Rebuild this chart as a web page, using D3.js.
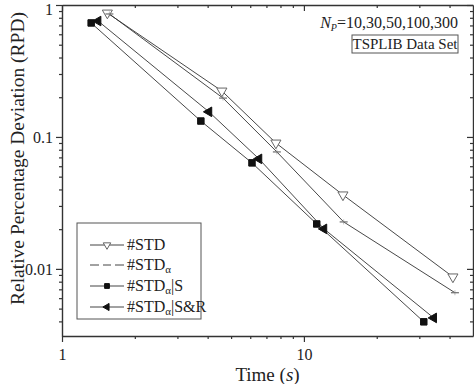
<!DOCTYPE html>
<html>
  <head>
    <style>
     body{ margin:0; background:#fff; }
     svg text{ font-family:"Liberation Serif","Times New Roman",serif; fill:#222; }
     .domain{ stroke:#333; stroke-width:1.4; }
     .tick line{ stroke:#333; stroke-width:1.2; }
    </style>
    <script src="https://d3js.org/d3.v7.min.js"></script>
    <title>RPD vs Time</title>
  </head>
  <body>
    <script>
    // values
    const seriesNames = ["#STD", "#STDα", "#STDα|S", "#STDα|S&R"];
    const timeSTD   = [1.54, 4.58, 7.66, 14.5, 41.3];
    const rpdSTD    = [0.87, 0.223, 0.090, 0.0364, 0.0087];
    const timeSTDa  = [1.57, 4.63, 7.73, 14.6, 42.1];
    const rpdSTDa   = [0.855, 0.197, 0.077, 0.0227, 0.0066];
    const timeS     = [1.32, 3.75, 6.10, 11.3, 31.3];
    const rpdS      = [0.731, 0.132, 0.0636, 0.0219, 0.00397];
    const timeSR    = [1.41, 4.05, 6.52, 12.1, 34.4];
    const rpdSR     = [0.756, 0.155, 0.0682, 0.0201, 0.00425];
    const xMajor = [1, 10];
    const yMajor = [1, 0.1, 0.01];

    const w = 474, h = 384;
    const pL = 62, pR = 473, pT = 5, pB = 336;

    const xScale = d3.scaleLog().domain([1, 50]).range([pL, pR]);
    const yScale = d3.scaleLog().domain([0.0031, 1]).range([pB, pT]);

    function minors(lo, hi) {
      const out = [];
      for (let e = Math.floor(Math.log10(lo)); e <= Math.ceil(Math.log10(hi)); e++) {
        for (let k = 2; k <= 9; k++) {
          const v = k * Math.pow(10, e);
          if (v > lo && v < hi) out.push(v);
        }
      }
      return out;
    }
    const xMinor = minors(1, 50);
    const yMinor = minors(0.0031, 1);

    const svg = d3.select("body").append("svg")
      .attr("width", w).attr("height", h);

    // bottom axis (outward ticks)
    svg.append("g").attr("transform", "translate(0," + pB + ")")
      .call(d3.axisBottom(xScale).tickValues(xMajor).tickFormat(d3.format("d")).tickSize(6).tickSizeOuter(0))
      .call(g => g.selectAll("text").attr("font-size", 16).attr("dy", "0.95em"));
    svg.append("g").attr("transform", "translate(0," + pB + ")")
      .call(d3.axisBottom(xScale).tickValues(xMinor).tickFormat("").tickSize(3).tickSizeOuter(0))
      .call(g => g.select(".domain").remove());
    // top axis (inward ticks)
    svg.append("g").attr("transform", "translate(0," + pT + ")")
      .call(d3.axisBottom(xScale).tickValues(xMajor).tickFormat("").tickSize(6).tickSizeOuter(0));
    svg.append("g").attr("transform", "translate(0," + pT + ")")
      .call(d3.axisBottom(xScale).tickValues(xMinor).tickFormat("").tickSize(3).tickSizeOuter(0))
      .call(g => g.select(".domain").remove());
    // left axis (outward ticks)
    svg.append("g").attr("transform", "translate(" + pL + ",0)")
      .call(d3.axisLeft(yScale).tickValues(yMajor).tickFormat(d => String(d)).tickSize(6).tickSizeOuter(0))
      .call(g => g.selectAll("text").attr("font-size", 16)
        .attr("dy", d => d === 1 ? "0.6em" : "0.32em"));
    svg.append("g").attr("transform", "translate(" + pL + ",0)")
      .call(d3.axisLeft(yScale).tickValues(yMinor).tickFormat("").tickSize(3).tickSizeOuter(0))
      .call(g => g.select(".domain").remove());
    // right axis (inward ticks)
    svg.append("g").attr("transform", "translate(" + pR + ",0)")
      .call(d3.axisLeft(yScale).tickValues(yMajor).tickFormat("").tickSize(6).tickSizeOuter(0));
    svg.append("g").attr("transform", "translate(" + pR + ",0)")
      .call(d3.axisLeft(yScale).tickValues(yMinor).tickFormat("").tickSize(3).tickSizeOuter(0))
      .call(g => g.select(".domain").remove());

    // axis titles
    const xt = svg.append("text").attr("x", (pL + pR) / 2).attr("y", 381)
      .attr("text-anchor", "middle").attr("font-size", 19);
    xt.append("tspan").text("Time (");
    xt.append("tspan").attr("font-style", "italic").text("s");
    xt.append("tspan").text(")");
    svg.append("text").attr("transform", "translate(24," + ((pT + pB) / 2 - 12) + ") rotate(-90)")
      .attr("text-anchor", "middle").attr("font-size", 19.5)
      .text("Relative Percentage Deviation (RPD)");

    const line = d3.line().x(d => xScale(d[0])).y(d => yScale(d[1]));
    const series = [
      { t: timeSTD, r: rpdSTD, sym: d3.symbolTriangle, rot: 180, fill: "#fff", stroke: "#666", size: 44 },
      { t: timeSTDa, r: rpdSTDa, sym: "dash", fill: "none", stroke: "#777" },
      { t: timeS, r: rpdS, sym: d3.symbolSquare, rot: 0, fill: "#111", stroke: "#111", size: 42 },
      { t: timeSR, r: rpdSR, sym: d3.symbolTriangle, rot: -90, fill: "#111", stroke: "#111", size: 40 }
    ];

    function drawMarker(g, s, x, y) {
      if (s.sym === "dash") {
        g.append("line").attr("x1", x - 4).attr("x2", x + 4).attr("y1", y).attr("y2", y)
          .attr("stroke", s.stroke).attr("stroke-width", 1.3);
        g.append("line").attr("x1", x).attr("x2", x).attr("y1", y - 2.5).attr("y2", y + 2.5)
          .attr("stroke", s.stroke).attr("stroke-width", 0.8).attr("opacity", 0.6);
      } else {
        g.append("path").attr("d", d3.symbol().type(s.sym).size(s.size)())
          .attr("transform", "translate(" + x + "," + y + ") rotate(" + s.rot + ")")
          .attr("fill", s.fill).attr("stroke", s.stroke).attr("stroke-width", 1);
      }
    }

    series.forEach(s => {
      const pts = s.t.map((t, i) => [t, s.r[i]]);
      svg.append("path").attr("d", line(pts)).attr("fill", "none")
        .attr("stroke", "#333").attr("stroke-width", 0.9);
    });
    series.forEach(s => {
      const g = svg.append("g");
      s.t.forEach((t, i) => drawMarker(g, s, xScale(t), yScale(s.r[i])));
    });

    // legend
    svg.append("rect").attr("x", 77).attr("y", 223).attr("width", 124).attr("height", 96)
      .attr("fill", "#fff").attr("stroke", "#555").attr("stroke-width", 1);
    const rowY = [245, 265, 286, 307];
    series.forEach((s, i) => {
      const y = rowY[i];
      const g = svg.append("g");
      if (s.sym === "dash") {
        [[90, 99], [103, 111], [115, 124]].forEach(p =>
          g.append("line").attr("x1", p[0]).attr("x2", p[1]).attr("y1", y).attr("y2", y)
            .attr("stroke", "#444").attr("stroke-width", 1));
      } else {
        g.append("line").attr("x1", 90).attr("x2", 124).attr("y1", y).attr("y2", y)
          .attr("stroke", "#444").attr("stroke-width", 1);
        drawMarker(g, Object.assign({}, s, { size: s.size * 0.55 }), 107, y);
      }
      const tx = g.append("text").attr("x", 127).attr("y", y + 5).attr("font-size", 16);
      const name = seriesNames[i];
      if (name.indexOf("α") >= 0) {
        const parts = name.split("α");
        tx.append("tspan").text(parts[0]);
        tx.append("tspan").attr("font-size", 11).attr("dy", 3).text("α");
        tx.append("tspan").attr("dy", -3).text(parts[1]);
      } else {
        tx.text(name);
      }
    });

    // annotation
    const np = svg.append("text").attr("x", 458).attr("y", 28).attr("text-anchor", "end").attr("font-size", 16);
    np.append("tspan").attr("font-style", "italic").text("N");
    np.append("tspan").attr("font-style", "italic").attr("font-size", 10).attr("dy", 3).text("P");
    np.append("tspan").attr("dy", -3).text("=10,30,50,100,300");
    svg.append("rect").attr("x", 352).attr("y", 35).attr("width", 106).attr("height", 18)
      .attr("fill", "#fff").attr("stroke", "#555").attr("stroke-width", 1);
    svg.append("text").attr("x", 405).attr("y", 49).attr("text-anchor", "middle").attr("font-size", 15)
      .text("TSPLIB Data Set");
    </script>
  </body>
</html>
